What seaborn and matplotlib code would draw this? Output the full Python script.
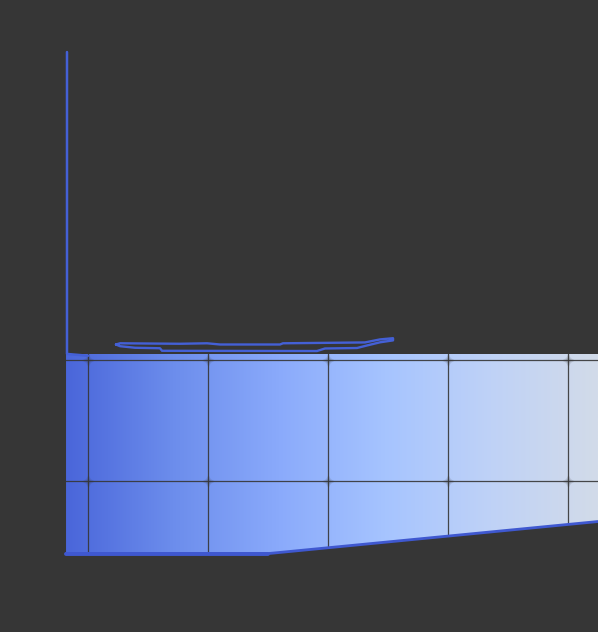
import numpy as np
import pandas as pd
import matplotlib
matplotlib.use('Agg')
import matplotlib.pyplot as plt
from matplotlib.colors import LinearSegmentedColormap
from matplotlib.patches import Polygon
import seaborn as sns

BG = '#363636'
LINE = '#4460d6'

# values
x_ticks = [0, 10, 20, 30, 40]
y_ticks = [0, 100]

area_x = [-1.83, 15.0, 42.5]
area_low = [-60.0, -60.0, -33.5]
area_high = [105.0, 105.0, 105.0]

spike_x = [-1.75, -1.75, 0.0]
spike_y = [354.5, 105.0, 103.5]

loop_x = [2.33, 2.67, 7.67, 9.92, 11.0, 16.0, 16.25, 23.08, 24.33, 25.42,
          25.42, 24.33, 23.25, 22.42, 19.75, 19.08, 6.17, 6.0, 3.92, 2.67, 2.33]
loop_y = [112.8, 113.8, 113.4, 113.8, 112.8, 112.8, 113.8, 114.5, 117.0, 118.0,
          116.2, 114.6, 112.0, 109.9, 109.5, 107.4, 107.6, 109.7, 110.1, 111.4, 112.8]

gradient_stops = ['#4a66da', '#6c8dec', '#8aaafb', '#a6c4ff', '#bfd2f7', '#d2dbe9']

sns.set_theme(style="darkgrid", rc={'axes.facecolor': BG, 'figure.facecolor': BG})

fig = plt.figure(figsize=(5.98, 6.32), dpi=100)
ax = fig.add_axes([0, 0, 1, 1])
ax.set_xlim(-7.333, 42.5)
ax.set_ylim(-124.8, 397.5)

# gradient fill, clipped to the band between the two edges
cmap = LinearSegmentedColormap.from_list('band', gradient_stops)
img = ax.imshow(np.linspace(0, 1, 256).reshape(1, -1), cmap=cmap, aspect='auto',
                extent=(area_x[0], area_x[-1], area_low[0], area_high[0]), zorder=1)
band = Polygon(list(zip(area_x, area_high)) + list(zip(area_x[::-1], area_low[::-1])),
               transform=ax.transData, fc='none', ec='none')
ax.add_patch(band)
img.set_clip_path(band)
ax.set_xlim(-7.333, 42.5)
ax.set_ylim(-124.8, 397.5)

ax.set_xticks(x_ticks)
ax.set_yticks(y_ticks)
ax.tick_params(length=0, labelbottom=False, labelleft=False)
ax.set_axisbelow(False)
ax.grid(True, color=BG, linewidth=0.9, alpha=0.9)
for s in ax.spines.values():
    s.set_visible(False)

# soft crossings where the grid lines meet
gx, gy = np.meshgrid(x_ticks, y_ticks)
ax.scatter(gx.ravel(), gy.ravel(), marker=(4, 1, 0), s=90, color=BG, alpha=0.16,
           linewidths=0, zorder=3)
ax.scatter(gx.ravel(), gy.ravel(), marker=(4, 1, 0), s=35, color=BG, alpha=0.2,
           linewidths=0, zorder=3)

sns.lineplot(x=area_x, y=area_low, color='#3f58d0', lw=2.0, sort=False, estimator=None,
             ax=ax, zorder=4)
sns.lineplot(x=area_x[:2], y=area_low[:2], color='#3f58d0', lw=2.8, sort=False, estimator=None,
             ax=ax, zorder=4)
sns.lineplot(x=spike_x, y=spike_y, color=LINE, lw=1.8, sort=False, estimator=None,
             ax=ax, zorder=4)
loop = pd.DataFrame({'x': loop_x, 'y': loop_y})
sns.lineplot(data=loop, x='x', y='y', color=LINE, lw=1.7, sort=False, estimator=None,
             ax=ax, zorder=4)

ax.set_xlabel('')
ax.set_ylabel('')
fig.savefig('out.png', dpi=100, facecolor=BG)
